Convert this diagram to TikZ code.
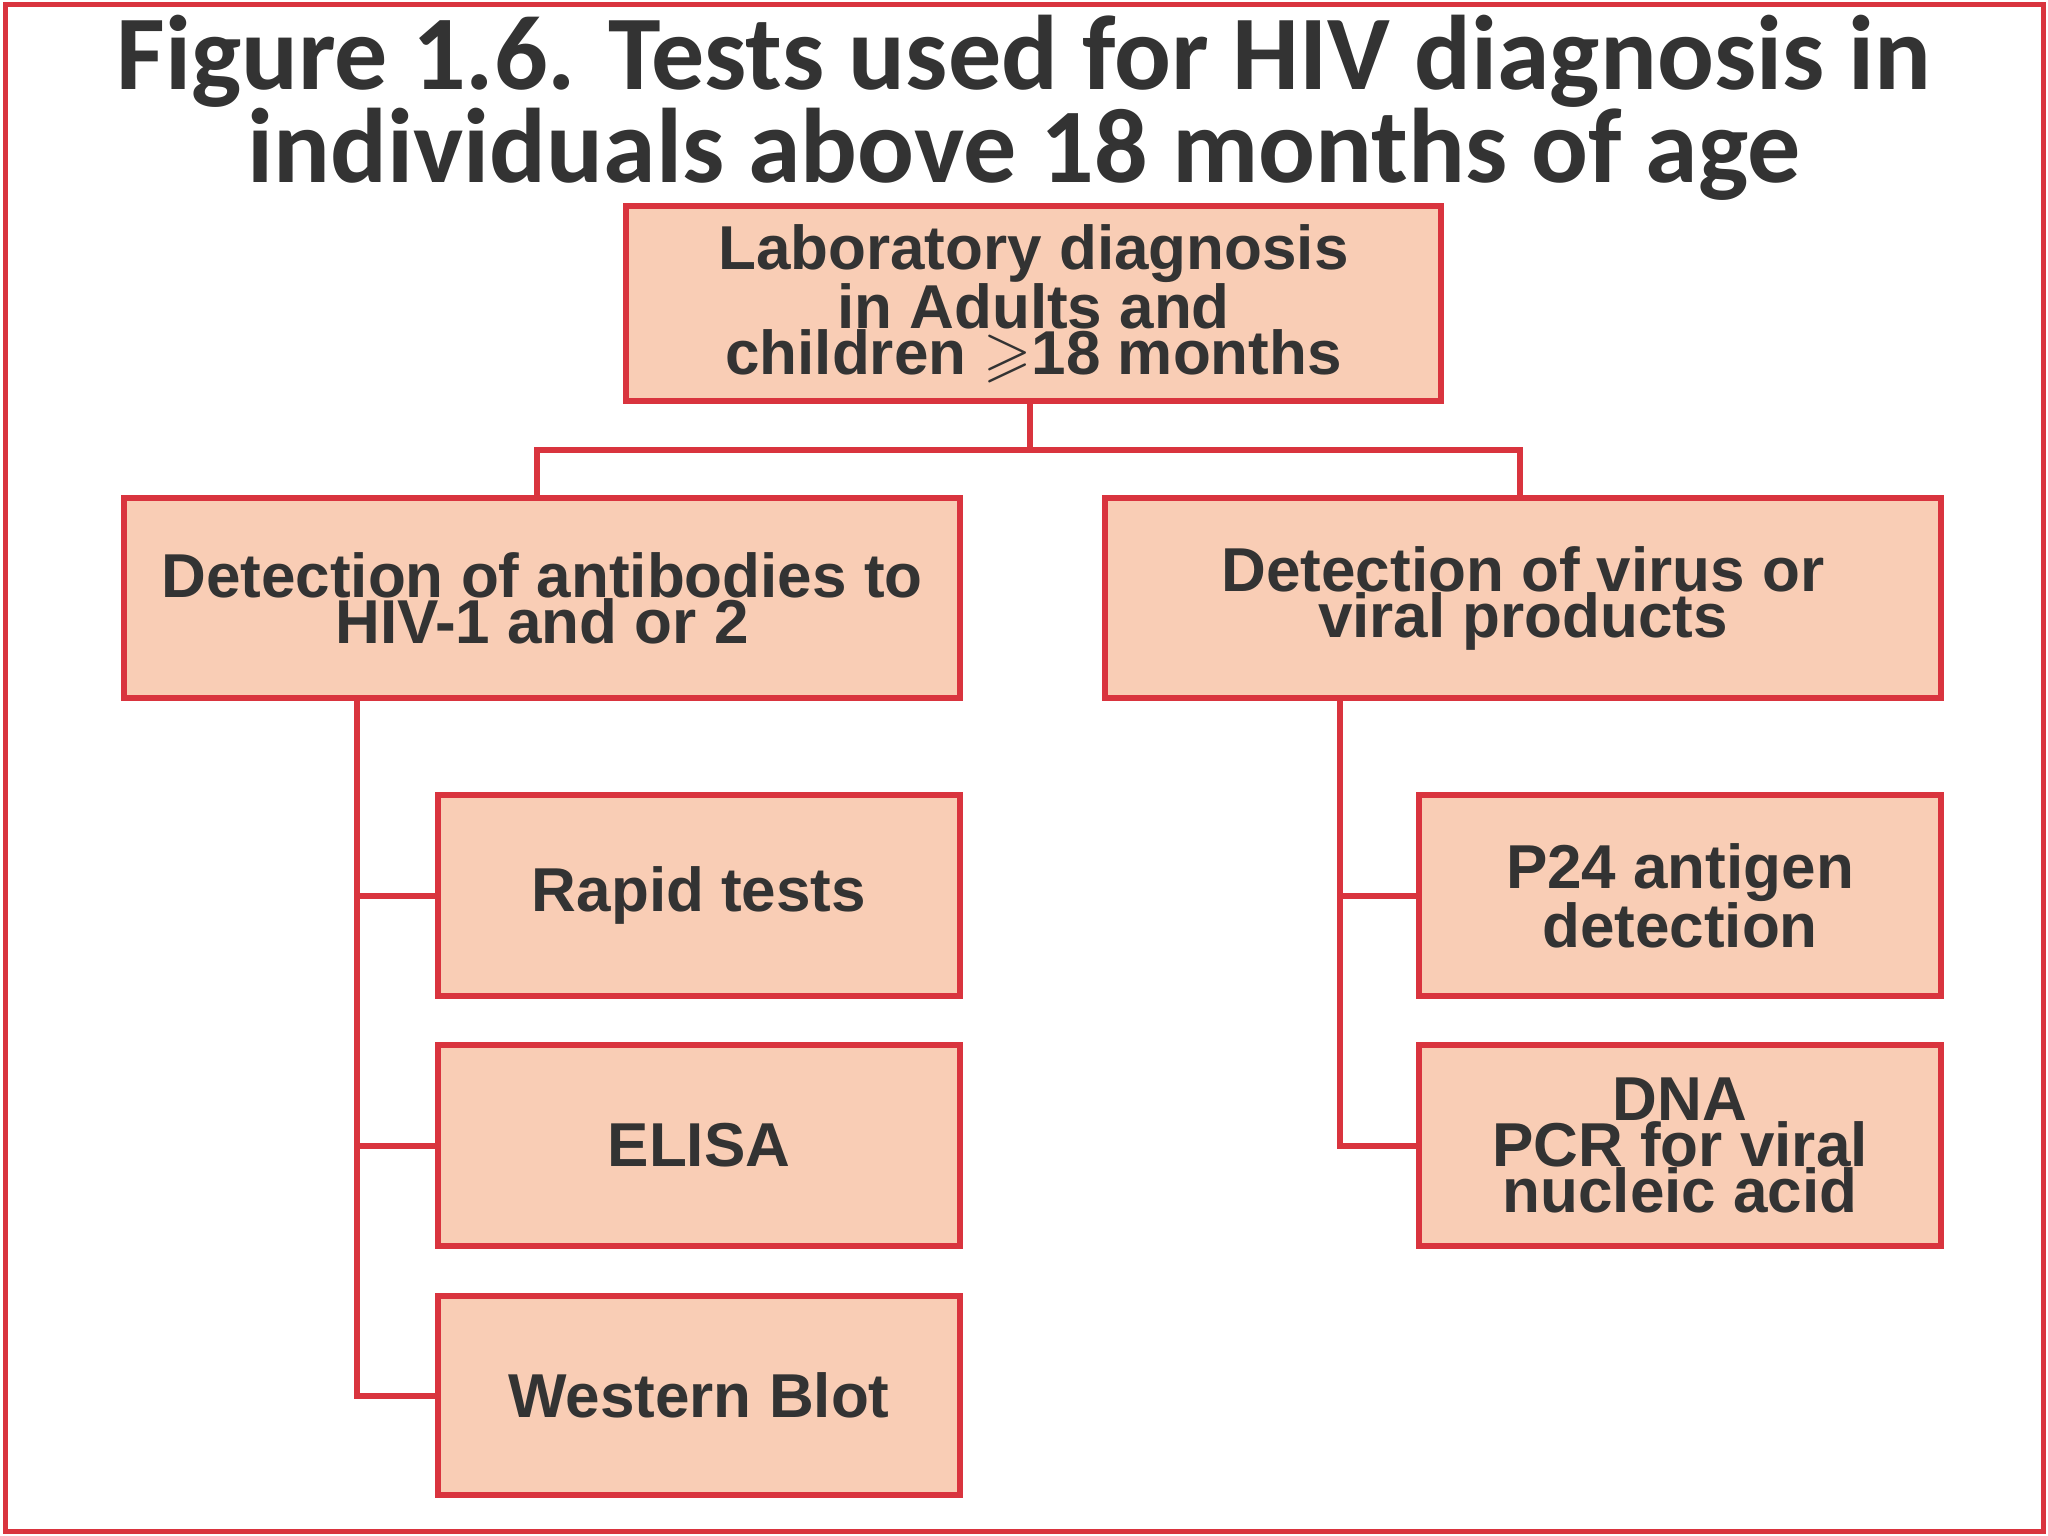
\documentclass[tikz,border=0pt]{standalone}
\usepackage{fontspec}
\setmainfont{Liberation Sans}
\newfontfamily\titlefont{Carlito}
\usepackage{amssymb}
\begin{document}
\begin{tikzpicture}[x=1pt,y=-1pt,
  bx/.style={draw=boxred,fill=peach,line width=6pt,anchor=north west,inner sep=0pt,text=txt,font=\fontsize{62}{46}\selectfont\bfseries,align=center},
  ln/.style={draw=boxred,line width=6pt}]
\definecolor{boxred}{HTML}{D9343E}
\definecolor{peach}{HTML}{F9CDB5}
\definecolor{txt}{HTML}{333333}
\useasboundingbox (0,0) rectangle (2048,1536);
\draw[boxred,line width=5pt] (5,5) rectangle (2043,1531);
\node[font=\titlefont\fontsize{106}{74}\selectfont\bfseries,text=txt,align=center] (title) at (1024,108) {Figure 1.6. Tests used for HIV diagnosis in\\individuals above 18 months of age};
\node[bx,minimum width=815,minimum height=195] (top) at (623,203) {Laboratory diagnosis\\in Adults and\\children $\geqslant$18 months};
\node[bx,minimum width=836,minimum height=200] (l) at (121,495) {Detection of antibodies to\\HIV-1 and or 2};
\node[bx,minimum width=836,minimum height=200] (r) at (1102,495) {Detection of virus or\\viral products};
\node[bx,minimum width=522,minimum height=201] (a1) at (435,792) {Rapid tests};
\node[bx,minimum width=522,minimum height=201] (a2) at (435,1042) {ELISA};
\node[bx,minimum width=522,minimum height=199] (a3) at (435,1293) {Western Blot};
\node[bx,minimum width=522,minimum height=201] (b1) at (1416,792) {P24 antigen\\detection};
\node[bx,minimum width=522,minimum height=201] (b2) at (1416,1042) {DNA\\PCR for viral\\nucleic acid};
\coordinate (j) at (1030,450);
\coordinate (lt) at (357,695);
\coordinate (rt) at (1340,695);
\draw[ln] (top.south -| j) -- (j);
\draw[ln] (537,495) -- (537,450) -- (1520,450) -- (1520,495);
\draw[ln] (lt) -- (a3.west -| lt) -- (a3.west);
\draw[ln] (a1.west -| lt) -- (a1.west);
\draw[ln] (a2.west -| lt) -- (a2.west);
\draw[ln] (rt) -- (b2.west -| rt) -- (b2.west);
\draw[ln] (b1.west -| rt) -- (b1.west);
\end{tikzpicture}
\end{document}
